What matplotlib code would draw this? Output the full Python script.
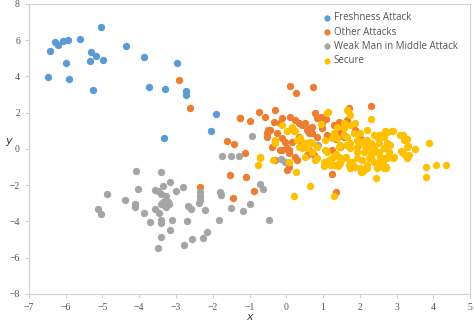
import matplotlib
matplotlib.use('Agg')
import matplotlib.pyplot as plt

# Freshness Attack (blue)
fresh_x = [-6.44, -6.47, -6.30, -6.22, -6.06, -5.95, -5.99, -5.91, -5.61, -5.31, -5.18, -5.33, -4.99,
           -5.05, -5.27, -4.37, -3.87, -3.74, -3.30, -2.98, -2.73, -2.74, -3.33, -1.92, -2.06]
fresh_y = [5.41, 3.96, 5.87, 5.75, 5.95, 5.98, 4.73, 3.88, 6.08, 5.32, 5.14, 4.85, 4.92,
           6.74, 3.24, 5.67, 5.08, 3.39, 3.33, 4.73, 3.22, 3.00, 0.59, 1.93, 0.96]

# Other Attacks (orange)
other_x = [-2.91, -2.63, -1.26, -1.60, -1.43, -2.34, -1.52, -1.45, -1.13, -1.09, -0.89,
           1.24, 1.34, 0.02, 0.09, 0.27, 0.72, 2.29, 1.70, -0.73, -0.57, -0.30, -1.25, -1.00,
           -0.34, -0.12, 0.11, 0.24, 0.52, 0.77, 0.93, 1.09, 0.97, 0.65, 0.61, 0.83, 1.11, 1.47,
           1.65, -0.53, -0.44, -0.25, -0.12, -0.03, -0.16, 0.06, -0.39, -0.30, 0.29, 0.56, -0.53,
           0.43, -0.50, -0.16, 0.34, 0.56, 0.70, 0.83, 0.97, 0.70, 0.34, 0.43, 0.16, 0.02, -0.12,
           0.06, 0.24, 0.06, 0.61, 0.74, 1.29, 1.42, 1.47, 1.24, 1.47, 1.56, 1.36, 1.88, 2.06,
           1.42, 1.52, 2.01]
other_y = [3.79, 2.25, 1.68, 0.42, 0.29, -2.08, -1.44, -2.69, -0.24, -1.53, -2.30,
           -1.40, -2.39, -1.16, 3.48, 3.08, 3.44, 2.34, 2.23, 2.03, 1.78, 2.15, 1.70, 1.55,
           1.47, 1.69, 1.78, 1.60, 1.42, 1.97, 1.78, 1.64, 1.14, 1.14, 0.87, 0.68, 0.77, 1.42,
           1.60, 0.87, 1.05, 0.87, 0.59, 0.40, -0.06, -0.06, 0.13, -0.61, -0.61, -0.33, 0.68,
           1.33, 1.05, 1.42, 1.42, 1.05, 1.23, 1.70, 1.42, 0.87, 0.68, 0.31, 0.40, 0.04, -0.06,
           -0.24, -0.42, -0.98, -0.06, -0.33, 1.33, 0.87, 0.13, -0.06, 0.87, 0.68, 0.54, 1.05, 0.50,
           1.51, 0.87, 0.59]

# Weak Man in Middle Attack (gray)
weak_x = [-1.74, -1.50, -1.29, -4.10, -3.40, -4.87, -4.04, -3.16, -3.36, -3.58, -3.50, -3.42,
          -3.27, -3.01, -2.82, -2.36, -2.36, -2.36, -2.37, -1.80, -1.77, -1.50, -5.13, -5.03,
          -4.38, -4.12, -4.11, -3.88, -3.71, -3.56, -3.45, -3.40, -3.31, -3.23, -3.28, -3.42,
          -3.42, -3.12, -3.17, -3.41, -3.50, -2.70, -2.67, -2.59, -2.22, -2.16, -2.27, -2.56,
          -2.78, -1.82, -1.18, -1.00, -0.71, -0.63, -0.47, -0.93, -0.14, -0.03, 0.86, -3.36, -3.20]
weak_y = [-0.39, -0.39, -0.39, -1.22, -1.25, -2.49, -2.19, -1.80, -2.06, -2.27, -2.32, -2.50,
          -2.58, -2.32, -2.12, -2.36, -2.60, -2.82, -2.97, -2.36, -2.52, -3.24, -3.31, -3.59,
          -2.80, -3.04, -3.20, -3.54, -4.03, -3.30, -3.55, -3.04, -3.13, -2.91, -3.20, -3.92,
          -4.07, -3.91, -4.49, -4.86, -5.47, -3.96, -3.15, -3.33, -3.37, -4.57, -4.92, -4.96,
          -5.30, -3.91, -3.41, -3.06, -1.95, -2.19, -3.91, 0.72, -0.57, -0.70, 0.20, -2.95, -3.05]

# Secure (yellow)
secure_x = [0.22, 0.65, 1.30, 0.26, -0.76, 2.45, 3.79, 3.79, 4.07, 4.33,
            1.02, 1.20, 1.41, 1.70, 1.85, 2.04, 2.18, 2.48, 2.62, 2.71,
            2.29, 1.68, 1.12, 3.87, 3.17, 3.28, 3.49, 2.90, 2.74, 2.60, 2.48, 2.33,
            3.30, 3.13, 3.21, 3.28, 2.90, 2.72, 2.10, 2.06, 1.74, 1.47, 1.36, 1.24, -0.71,
            -0.12, 0.02, 0.20, 0.38, 0.47, 0.34, 0.56, 0.70, 0.52, 0.83, 1.11, 1.02, 1.20, 1.33,
            1.47, 1.56, 1.29, 0.93, 1.65, -0.30, 0.16, 0.65, 0.83, 0.29,
            1.38, 1.56, 1.74, 1.88, 1.42, 1.61, 1.74, 1.92, 2.10, 2.20, 2.42, 2.29, 2.51, 2.65,
            2.56, 2.69, 2.78, 2.83, 2.65, 2.38, 2.20, 2.01, 1.92, 2.06, 2.24, 2.38, 1.79, 1.61,
            1.42, 1.88, 2.20, 2.06, 1.29, 1.65, 1.74,
            1.11, 0.24, 0.43, 0.56, 0.70, 0.79, 1.06, 1.15, 1.42, 1.06, 1.24, -0.30, -0.35, -0.71,
            0.06, 1.38, 1.56, 1.83, 1.74, 1.92, 2.10, 2.19, 2.29, 2.38, 2.51, 2.74, 2.88, 2.69,
            2.51, 3.10, 3.19, 3.28, 3.15, 2.92, 2.74, 2.56, 2.29, 2.10, 1.92, 1.74, 1.56, 1.29,
            1.74, 2.01, 2.19, 2.47, 2.65, 2.78, 3.33]
secure_y = [-2.58, -2.03, -2.62, -1.27, -0.88, -1.62, -0.98, -1.55, -0.88, -0.88,
            -0.92, -0.87, -0.92, -0.87, -0.98, -1.25, -1.05, -0.87, -0.85, -1.07,
            1.64, 2.08, 2.03, 0.31, 0.79, 0.54, 0.02, 0.98, 0.92, 0.77, 0.59, 0.22,
            0.17, -0.11, -0.29, -0.48, -0.50, -1.01, -1.16, -0.61, -0.98, -0.79, -0.29, -0.51, -0.50,
            1.33, 0.96, 0.96, 0.59, 0.31, 0.13, 0.04, -0.15, -0.46, -0.51, -0.15, -0.70, -0.61, -0.33,
            0.22, 0.77, 0.87, 1.38, 2.15, 0.50, 1.23, 0.40, 0.13, 0.50,
            1.23, 1.42, 1.33, 1.42, 0.13, 0.22, 0.04, -0.15, 0.22, 0.50, -0.15, -0.24, 0.31, 0.04,
            -0.42, -0.51, -0.15, 0.22, 0.68, 0.77, 1.05, 0.87, 0.50, 0.31, -0.51, -0.70, -0.70, -0.42,
            -0.42, -0.98, -0.98, -1.25, 0.68, 0.68, 1.88,
            1.97, 0.96, 0.04, 0.31, 0.31, -0.61, -0.06, -0.61, -0.79, 0.50, 0.59, 0.31, -0.61, -0.42,
            -0.70, 0.59, 1.14, 0.87, 0.31, 0.13, 0.41, 0.13, 0.31, 0.04, -0.15, 0.31, 0.96, 0.96,
            0.77, 0.77, 0.50, 0.13, -0.15, -0.42, -0.51, -0.70, -0.51, -0.15, -0.51, -0.70, -0.51, -0.88,
            -1.07, -1.07, -0.88, -1.07, -1.07, -0.33, -0.33]

x_ticks = list(range(-7, 6))
y_ticks = list(range(-8, 9, 2))

fig = plt.figure(figsize=(4.74, 3.23), dpi=100)
ax = fig.add_axes([0.061, 0.090, 0.931, 0.898])

dot = 28
ax.scatter(fresh_x, fresh_y, s=dot, color='#5B9BD5', linewidths=0, label='Freshness Attack')
ax.scatter(other_x, other_y, s=dot, color='#ED7D31', linewidths=0, label='Other Attacks')
ax.scatter(weak_x, weak_y, s=dot, color='#A5A5A5', linewidths=0, label='Weak Man in Middle Attack')
ax.scatter(secure_x, secure_y, s=dot, color='#FFC000', linewidths=0, label='Secure')

ax.set_xlim(-7, 5)
ax.set_ylim(-8, 8)
ax.set_xticks(x_ticks)
ax.set_yticks(y_ticks)

for side in ['left', 'right', 'top', 'bottom']:
    ax.spines[side].set_color('#D0D0D0')
    ax.spines[side].set_linewidth(0.8)
ax.tick_params(colors='#D0D0D0', length=3, width=0.8, labelcolor='#555555', labelsize=7)
for lbl in ax.get_xticklabels() + ax.get_yticklabels():
    lbl.set_fontfamily('Liberation Serif')

ax.set_xlabel('x', fontsize=8, style='italic', color='#404040', labelpad=0)
ax.set_ylabel('y', fontsize=8, style='italic', color='#404040', rotation=0)
ax.yaxis.set_label_coords(-0.046, 0.51)

leg = ax.legend(loc='upper left', bbox_to_anchor=(0.655, 0.985), frameon=False, fontsize=7,
                handlelength=1.0, handletextpad=0.2, labelspacing=0.35, markerscale=0.85,
                borderaxespad=0)
for t in leg.get_texts():
    t.set_color('#555555')
    t.set_fontfamily('Open Sans')

plt.savefig('out.png', dpi=100)
plt.close()
